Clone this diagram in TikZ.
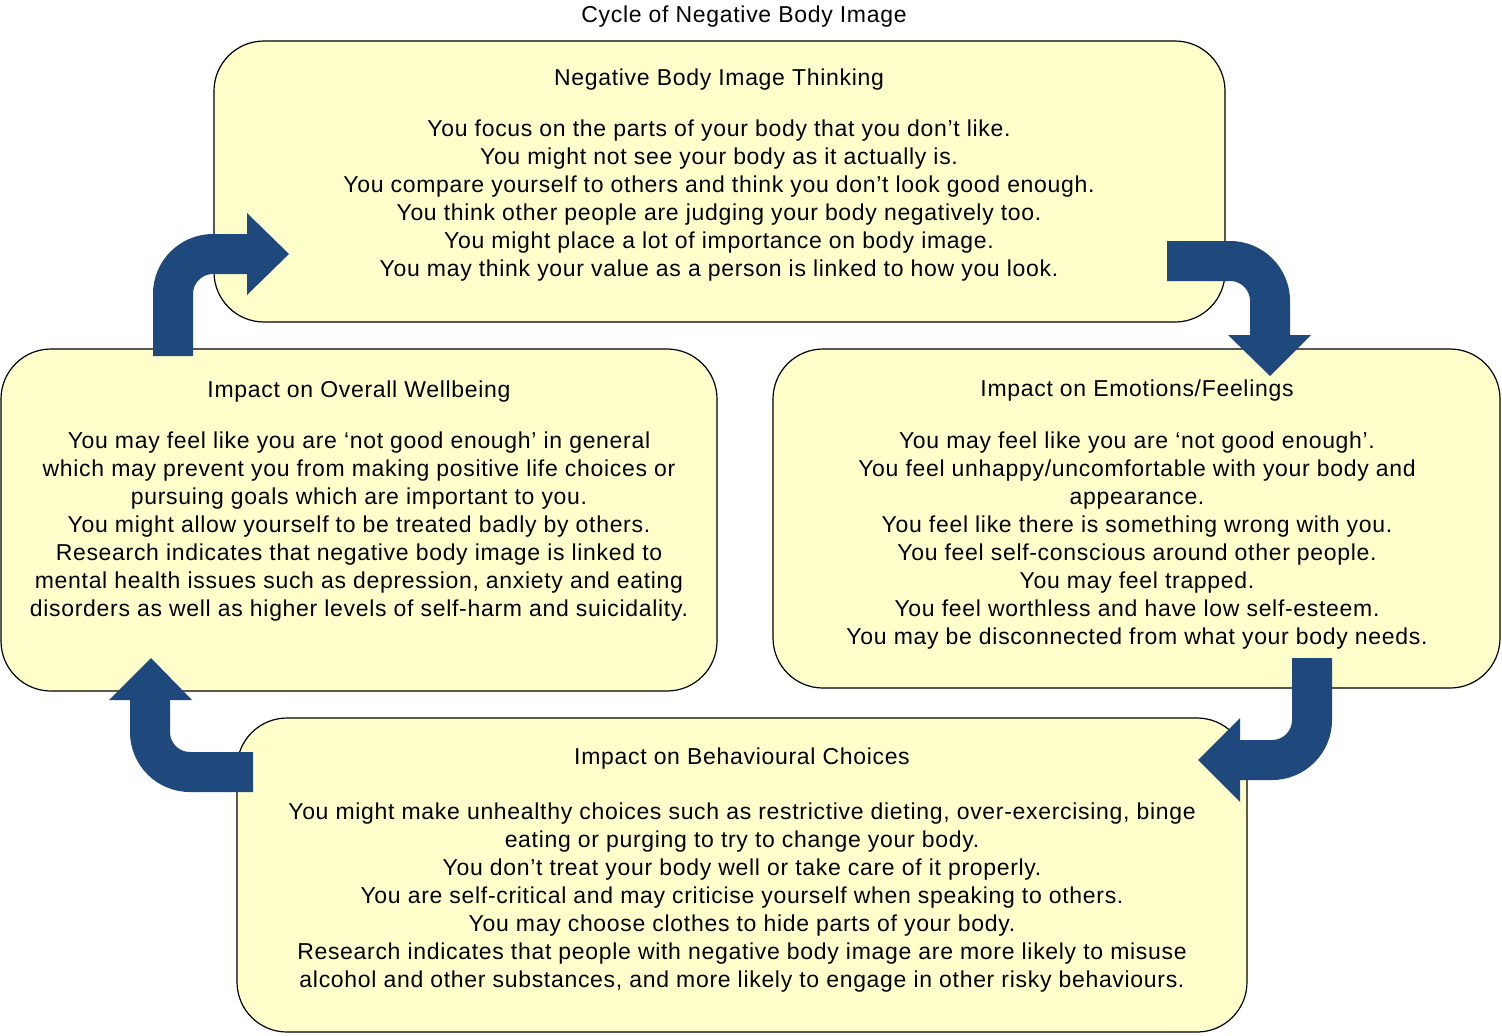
\documentclass[tikz,border=0pt]{standalone}
\usepackage{fontspec}
\setmainfont{Liberation Sans}[LetterSpace=3]
\definecolor{boxfill}{HTML}{FFFFCC}
\definecolor{arrowblue}{HTML}{1F497D}
\begin{document}
\begin{tikzpicture}[x=0.5pt,y=-0.5pt,
  card/.style={draw=black,line width=0.6pt,fill=boxfill,rounded corners=25pt},
  head/.style={font=\fontsize{11.5}{14}\selectfont,anchor=base},
  body/.style={font=\fontsize{11.5}{14}\selectfont,align=center,anchor=north},
  band/.style={draw=arrowblue,line width=20pt,rounded corners=20pt},
  tip/.style={fill=arrowblue}]
\useasboundingbox (0,0) rectangle (1502,1035);
\node[head] (title) at (744,22) {Cycle of Negative Body Image};
% boxes
\draw[card] (214,41) rectangle (1225,322);
\draw[card] (1,349) rectangle (717,691);
\draw[card] (773,349) rectangle (1500,688);
\draw[card] (237,718) rectangle (1247,1032);
% arrows
\draw[band] (1167,261) -- (1270,261) -- (1270,336);
\fill[tip] (1228,335) -- (1311,335) -- (1270,376) -- cycle;
\draw[band] (173,356) -- (173,254) -- (248,254);
\fill[tip] (247,213) -- (247,295) -- (289,254) -- cycle;
\draw[band] (1312,658) -- (1312,760) -- (1239,760);
\fill[tip] (1240,718) -- (1240,802) -- (1198,760) -- cycle;
\draw[band] (253,772) -- (150,772) -- (150,699);
\fill[tip] (109,700) -- (192,700) -- (151,658) -- cycle;
% texts
\node[head] (h1) at (719,85) {Negative Body Image Thinking};
\node[body] (b1) at (719,113) {You focus on the parts of your body that you don’t like.\\
You might not see your body as it actually is.\\
You compare yourself to others and think you don’t look good enough.\\
You think other people are judging your body negatively too.\\
You might place a lot of importance on body image.\\
You may think your value as a person is linked to how you look.};
\node[head] (h2) at (359,397) {Impact on Overall Wellbeing};
\node[body] (b2) at (359,425) {You may feel like you are ‘not good enough’ in general\\
which may prevent you from making positive life choices or\\
pursuing goals which are important to you.\\
You might allow yourself to be treated badly by others.\\
Research indicates that negative body image is linked to\\
mental health issues such as depression, anxiety and eating\\
disorders as well as higher levels of self-harm and suicidality.};
\node[head] (h3) at (1137,396) {Impact on Emotions/Feelings};
\node[body] (b3) at (1137,425) {You may feel like you are ‘not good enough’.\\
You feel unhappy/uncomfortable with your body and\\
appearance.\\
You feel like there is something wrong with you.\\
You feel self-conscious around other people.\\
You may feel trapped.\\
You feel worthless and have low self-esteem.\\
You may be disconnected from what your body needs.};
\node[head] (h4) at (742,764) {Impact on Behavioural Choices};
\node[body] (b4) at (742,796) {You might make unhealthy choices such as restrictive dieting, over-exercising, binge\\
eating or purging to try to change your body.\\
You don’t treat your body well or take care of it properly.\\
You are self-critical and may criticise yourself when speaking to others.\\
You may choose clothes to hide parts of your body.\\
Research indicates that people with negative body image are more likely to misuse\\
alcohol and other substances, and more likely to engage in other risky behaviours.};
\end{tikzpicture}
\end{document}
